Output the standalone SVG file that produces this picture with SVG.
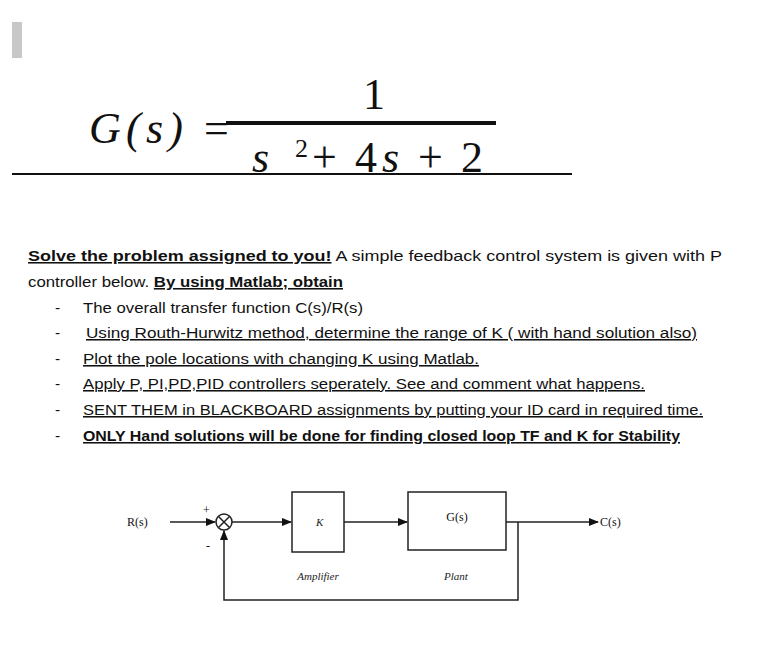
<svg xmlns="http://www.w3.org/2000/svg" width="761" height="648" viewBox="0 0 761 648">
<style>
.t{font-family:"Liberation Sans",Arial,sans-serif;font-size:15.5px;fill:#111}
.m{font-family:"Liberation Serif",serif;font-size:44px;fill:#111}
.s{font-family:"Liberation Serif",serif;font-size:12px;fill:#111}
.i{font-family:"Liberation Serif",serif;font-size:11px;font-style:italic;fill:#222}
.ln{stroke:#222;stroke-width:1.5;fill:none}
</style>
<defs><marker id="a" viewBox="0 0 10 10" refX="9" refY="5" markerWidth="7" markerHeight="7" orient="auto"><path d="M0,1 L10,5 L0,9z" fill="#111"/></marker></defs>
<rect width="761" height="648" fill="#fff"/>
<rect x="12" y="22" width="10" height="36" fill="#c8c8c8"/>
<g id="formula">
<text class="m" x="89" y="143" font-style="italic" textLength="94">G(s)</text>
<text class="m" x="204" y="143">=</text>
<text class="m" x="363" y="109">1</text>
<rect x="226" y="121" width="270" height="4" fill="#111"/>
<text class="m" y="172"><tspan x="252" font-style="italic">s</tspan><tspan x="295" y="157" font-size="26">2</tspan><tspan x="312" y="172">+</tspan><tspan x="355">4</tspan><tspan x="382" font-style="italic">s</tspan><tspan x="418">+</tspan><tspan x="461">2</tspan></text>
<line x1="12" y1="174" x2="572" y2="174" stroke="#111" stroke-width="2"/>
</g>
<g id="text">
<text class="t" x="28" y="261" textLength="694" lengthAdjust="spacingAndGlyphs"><tspan font-weight="bold" text-decoration="underline">Solve the problem assigned to you!</tspan> A simple feedback control system is given with P</text>
<text class="t" x="28" y="287" textLength="315" lengthAdjust="spacingAndGlyphs">controller below. <tspan font-weight="bold" text-decoration="underline">By using Matlab; obtain</tspan></text>
<text class="t" x="55" y="313">-</text><text class="t" x="83" y="313" textLength="280" lengthAdjust="spacingAndGlyphs">The overall transfer function C(s)/R(s)</text>
<text class="t" x="55" y="338">-</text><text class="t" x="86" y="338" text-decoration="underline" textLength="611" lengthAdjust="spacingAndGlyphs">Using Routh-Hurwitz method, determine the range of K ( with hand solution also)</text>
<text class="t" x="55" y="364">-</text><text class="t" x="83" y="364" text-decoration="underline" textLength="396" lengthAdjust="spacingAndGlyphs">Plot the pole locations with changing K using Matlab.</text>
<text class="t" x="55" y="389">-</text><text class="t" x="83" y="389" text-decoration="underline" textLength="562" lengthAdjust="spacingAndGlyphs">Apply P, PI,PD,PID controllers seperately. See and comment what happens.</text>
<text class="t" x="55" y="415">-</text><text class="t" x="83" y="415" text-decoration="underline" textLength="620" lengthAdjust="spacingAndGlyphs">SENT THEM in BLACKBOARD assignments by putting your ID  card in required time.</text>
<text class="t" x="55" y="441">-</text><text class="t" x="83" y="441" font-weight="bold" text-decoration="underline" textLength="597" lengthAdjust="spacingAndGlyphs">ONLY Hand solutions will be done for finding closed loop TF and K for Stability</text>
</g>
<g id="sum"><circle cx="224" cy="522" r="8" class="ln"/><path d="M218.5,516.5 L229.5,527.5 M229.5,516.5 L218.5,527.5" class="ln"/>
<text class="s" x="203" y="514" font-size="10">+</text><text class="s" x="206" y="550" font-size="12">-</text></g>
<g id="K"><rect x="292" y="492" width="52" height="60" class="ln" stroke="#444"/><text class="i" x="316" y="526">K</text><text class="i" x="318" y="580" text-anchor="middle">Amplifier</text></g>
<g id="G"><rect x="408" y="492" width="98" height="58" class="ln"/><text class="s" x="457" y="521" text-anchor="middle">G(s)</text><text class="i" x="456" y="580" text-anchor="middle">Plant</text></g>
<text class="s" x="127" y="526">R(s)</text>
<text class="s" x="600" y="526">C(s)</text>
<g id="connectors">
<line x1="170" y1="522" x2="215" y2="522" class="ln" marker-end="url(#a)"/>
<line x1="232" y1="522" x2="291" y2="522" class="ln" marker-end="url(#a)"/>
<line x1="344" y1="522" x2="407" y2="522" class="ln" marker-end="url(#a)"/>
<line x1="506" y1="522" x2="598" y2="522" class="ln" marker-end="url(#a)"/>
<path d="M518,522 V600 H224 V531" class="ln" marker-end="url(#a)"/>
</g>
</svg>
